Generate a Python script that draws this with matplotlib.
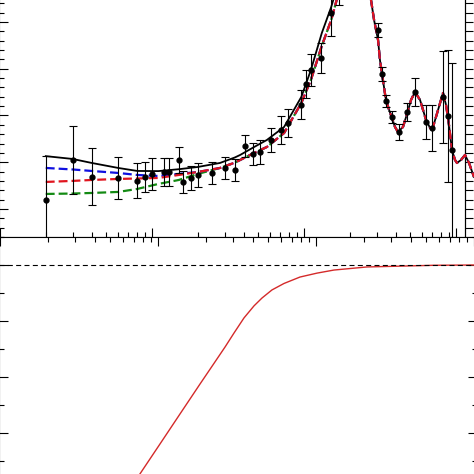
import numpy as np
import matplotlib
matplotlib.use('Agg')
import matplotlib.pyplot as plt
from matplotlib.ticker import MultipleLocator, LogLocator, NullFormatter

# multipoles of the model curves and their D_ell values
ell_th = [2, 3, 4, 6, 8, 11, 15, 20, 28, 35, 38, 47, 57, 74, 96, 111, 131, 151, 180, 220,
          250, 276, 289, 307, 316, 326, 346, 363, 379, 397, 415, 448, 476, 506, 537, 580,
          635, 675, 706, 762, 821, 860, 899, 941, 985, 1015, 1079, 1146, 1218, 1313]
D_black = [1130, 1070, 985, 877, 813, 810, 850, 898, 984, 1100, 1155, 1326, 1476, 1755, 2396,
           2973, 3765, 4321, 5150, 5700, 5250, 4471, 4043, 3615, 3187, 2888, 2332, 2118, 1946,
           1754, 1647, 1754, 2032, 2332, 2503, 2332, 1904, 1733, 1754, 2118, 2481, 2225, 1797,
           1262, 1048, 984, 1048, 1155, 984, 684]
# dashed models: low-ell part differs, above ell~250 they follow the black one
D_red_low = [578, 600, 620, 642, 652, 663, 727, 791, 877, 990, 1048, 1198, 1326, 1626, 2267,
             2760, 3490, 4043, 4950, 5650]
D_blue_low = [877, 845, 813, 770, 727, 706, 749, 791, 877, 990, 1048, 1198, 1326, 1626, 2267,
              2760, 3490, 4043, 4950, 5650]
D_green_low = [321, 330, 342, 364, 428, 535, 620, 749, 877, 990, 1048, 1198, 1326, 1626, 2267,
               2760, 3490, 4043, 4950, 5650]

# measured band powers
ell_obs = [2, 3, 4, 6, 8, 9, 10, 12, 13, 15, 16, 18, 20, 25, 30, 35, 41, 46, 51, 61, 71, 78,
           96, 103, 111, 129, 150, 170, 200, 235, 270, 307, 326, 346, 379, 422, 476, 538, 635,
           695, 821, 886, 941]
D_obs = [193, 1048, 684, 663, 599, 684, 749, 791, 791, 1048, 578, 663, 727, 770, 877, 834,
         1348, 1176, 1219, 1476, 1690, 1840, 2225, 2674, 2973, 3230, 4192, 4900, 5500, 5650,
         4750, 3829, 2888, 2310, 1968, 1647, 2075, 2503, 1861, 1733, 2396, 1989, 1262]
err_obs = [940, 727, 610, 450, 375, 330, 340, 300, 300, 280, 235, 265, 256, 245, 245, 235,
           235, 245, 256, 265, 290, 290, 310, 300, 350, 320, 500, 540, 400, 300, 150, 140,
           150, 130, 130, 170, 200, 290, 360, 500, 980, 1420, 1860]

# lower panel: ratio curve
x_ratio = [7.69, 10.3, 13.78, 18.45, 22.95, 26.56, 30.27, 35.02, 40.52, 45.51, 52.66, 62.72,
           79.19, 101.5, 130.0, 210.2, 345.1, 558.3, 1000]
ratio = [0.254, 0.361, 0.468, 0.575, 0.654, 0.707, 0.757, 0.811, 0.854, 0.882, 0.911, 0.934,
         0.957, 0.971, 0.982, 0.993, 0.996, 0.999, 1.0]

n_low = len(D_red_low)
D_red = D_red_low + D_black[n_low:]
D_blue = D_blue_low + D_black[n_low:]
D_green = D_green_low + D_black[n_low:]

W = H = 474.0


def px_box(x0, x1, y_top, y_bot):
    return [x0 / W, 1 - y_bot / H, (x1 - x0) / W, (y_bot - y_top) / H]


fig = plt.figure(figsize=(4.74, 4.74), dpi=100)
ax1 = fig.add_axes(px_box(-1, 465, -71.5, 237))
ax2 = fig.add_axes(px_box(-1, 477, 237, 545))

dash = (0, (4, 1.8))
ax1.plot(ell_th, D_black, color='k', lw=1.3, zorder=3, clip_on=False)
ax1.plot(ell_th, D_green, color='#138a13', lw=1.6, ls=dash, zorder=4, clip_on=False)
ax1.plot(ell_th, D_blue, color='#1010e0', lw=1.6, ls=dash, zorder=5, clip_on=False)
ax1.plot(ell_th, D_red, color='#e0141e', lw=1.6, ls=dash, zorder=6, clip_on=False)
ax1.errorbar(ell_obs, D_obs, yerr=err_obs, fmt='o', color='k', ms=3.5, elinewidth=0.8,
             capsize=3, capthick=0.8, zorder=7)

ax1.set_xscale('log')
ax1.set_xlim(0.985, 1146)
ax1.set_ylim(-600, 6000)
ax1.yaxis.set_major_locator(MultipleLocator(1000))
ax1.yaxis.set_minor_locator(MultipleLocator(200))

ax2.plot(x_ratio, ratio, color='#d42a2a', lw=1.0)
ax2.axhline(1.0, color='k', lw=0.8, ls=(0, (4.5, 3)))
ax2.set_xscale('log')
ax2.set_xlim(0.9855, 1045)
ax2.set_ylim(0, 1.1)
ax2.yaxis.set_major_locator(MultipleLocator(0.2))
ax2.yaxis.set_minor_locator(MultipleLocator(0.1))

for ax in (ax1, ax2):
    ax.xaxis.set_major_locator(LogLocator(base=10, numticks=10))
    ax.xaxis.set_minor_locator(LogLocator(base=10, subs=np.arange(2, 10), numticks=30))
    ax.xaxis.set_minor_formatter(NullFormatter())
    ax.tick_params(which='both', direction='in', width=0.8, labelleft=False,
                   labelbottom=False, labeltop=False, labelright=False)
    ax.tick_params(which='major', length=6.5)
    ax.tick_params(which='minor', length=3.3)
    for spine in ax.spines.values():
        spine.set_linewidth(0.8)

ax1.tick_params(which='both', top=False, right=False, bottom=True, left=True)
ax2.tick_params(which='both', top=True, bottom=False, right=True, left=True)

# outward ticks on the right edge of the upper panel
sec = ax1.secondary_yaxis('right')
sec.yaxis.set_major_locator(MultipleLocator(1000))
sec.yaxis.set_minor_locator(MultipleLocator(200))
sec.yaxis.set_major_formatter(NullFormatter())
sec.tick_params(which='both', direction='out', length=6, width=0.8)
sec.spines['right'].set_linewidth(0.8)

fig.savefig('out.png', dpi=100)
